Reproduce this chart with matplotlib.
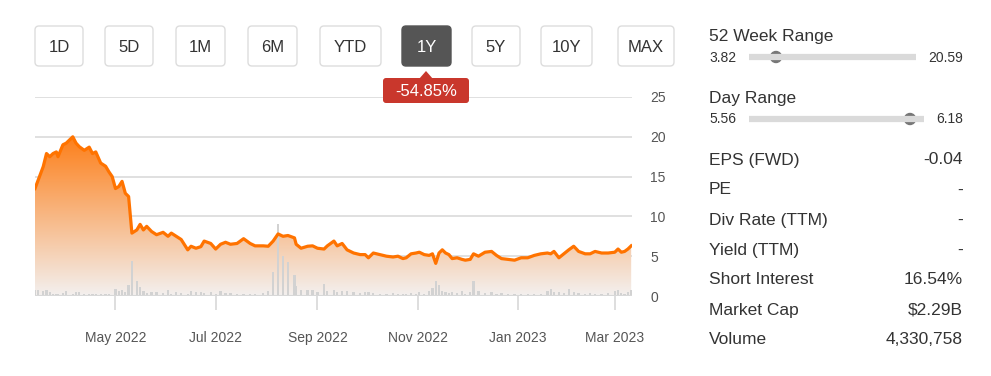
import numpy as np
import pandas as pd
import matplotlib
matplotlib.use("Agg")
import matplotlib.pyplot as plt
from matplotlib.patches import FancyBboxPatch, Polygon, Circle

plt.rcParams["font.family"] = ["Liberation Sans", "DejaVu Sans"]

# price history, days counted from 2022-03-13
start = pd.Timestamp("2022-03-13")
days = [0, 2, 5, 7, 9, 11, 13, 14, 17, 19, 23, 25, 27, 30, 33, 35, 37, 40, 43, 45,
        47, 49, 51, 53, 55, 57, 59, 62, 64, 66, 68, 71, 74, 78, 81, 83, 86, 89, 93, 95,
        98, 101, 103, 107, 110, 113, 116, 119, 123, 127, 131, 134, 139, 142, 145, 148, 151, 154, 158, 159,
        162, 166, 169, 172, 176, 178, 182, 184, 187, 190, 194, 198, 201, 203, 206, 210, 214, 218, 221, 224,
        226, 229, 232, 234, 237, 240, 242, 244, 246, 248, 250, 252, 254, 257, 260, 262, 265, 267, 270, 274,
        278, 281, 284, 288, 292, 296, 300, 304, 308, 312, 314, 316, 319, 322, 325, 328, 331, 335, 338, 341,
        345, 349, 353, 355, 357, 359, 361, 363]
price = [13.5, 14.6, 16.25, 17.9, 17.5, 17.9, 18.1, 17.5, 19.0, 19.2, 20.0, 19.2, 18.75, 18.3, 18.7, 17.9, 18.1, 16.7, 16.3, 15.6,
         15.0, 13.5, 13.75, 14.4, 12.9, 12.5, 7.9, 8.3, 9.0, 8.3, 8.75, 8.1, 7.7, 8.0, 7.5, 7.9, 7.5, 7.1, 5.8, 6.25,
         6.0, 6.2, 6.9, 6.6, 5.9, 6.5, 6.75, 6.5, 6.6, 7.2, 6.6, 6.3, 6.3, 6.25, 6.9, 7.8, 7.5, 7.6, 7.3, 6.5,
         6.0, 6.25, 6.3, 6.0, 5.9, 6.3, 6.9, 6.3, 6.6, 5.8, 5.4, 5.2, 5.2, 4.8, 5.4, 5.2, 5.0, 4.9, 5.0, 4.7,
         4.8, 5.3, 5.4, 5.5, 5.2, 5.1, 5.3, 4.1, 5.4, 5.8, 5.4, 5.2, 4.7, 4.8, 4.6, 4.5, 4.6, 5.3, 5.0, 5.5,
         5.6, 5.1, 4.7, 4.6, 4.5, 4.8, 4.8, 5.1, 5.3, 5.4, 5.3, 5.6, 4.8, 5.3, 5.8, 6.25, 5.6, 5.3, 5.3, 5.6,
         5.4, 5.4, 5.5, 5.9, 5.5, 5.6, 5.9, 6.3]
# volume bars, drawn in price-axis units as on the site
volume = [0.7, 0.8, 0.6, 0.8, 0.5, 0.3, 0.2, 0.3, 0.4, 0.6, 0.3, 0.5, 0.5, 0.2, 0.2, 0.2, 0.2, 0.2, 0.3, 0.2,
          0.1, 0.9, 0.6, 0.7, 0.5, 1.4, 4.4, 1.9, 1.1, 0.6, 0.4, 0.5, 0.5, 0.4, 0.8, 0.3, 0.5, 0.4, 0.3, 0.6,
          0.5, 0.5, 0.4, 0.5, 0.3, 0.6, 0.4, 0.4, 0.2, 0.3, 0.2, 0.2, 0.4, 0.6, 3.0, 9.0, 5.0, 4.3, 2.7, 1.2,
          0.8, 0.7, 0.7, 0.5, 1.5, 0.6, 0.7, 0.5, 0.6, 0.6, 0.5, 0.4, 0.5, 0.5, 0.4, 0.3, 0.3, 0.4, 0.3, 0.2,
          0.3, 0.4, 0.3, 0.5, 0.3, 0.6, 1.0, 1.9, 1.4, 0.6, 0.5, 0.4, 0.5, 0.4, 0.6, 0.3, 0.5, 1.9, 0.6, 0.4,
          0.5, 0.3, 0.4, 0.2, 0.3, 0.3, 0.2, 0.3, 0.3, 0.6, 0.9, 0.5, 0.5, 0.4, 0.9, 0.5, 0.4, 0.3, 0.4, 0.3,
          0.3, 0.4, 0.6, 0.8, 0.4, 0.3, 0.5, 0.7]

tick_dates = ["2022-05-01", "2022-07-01", "2022-09-01", "2022-11-01", "2023-01-01", "2023-03-01"]
tick_labels = ["May 2022", "Jul 2022", "Sep 2022", "Nov 2022", "Jan 2023", "Mar 2023"]
ranges = ["1D", "5D", "1M", "6M", "YTD", "1Y", "5Y", "10Y", "MAX"]
change = "-54.85%"

week_lo, week_hi = 3.82, 20.59
day_lo, day_hi = 5.56, 6.18
stat_names = ["EPS (FWD)", "PE", "Div Rate (TTM)", "Yield (TTM)", "Short Interest", "Market Cap", "Volume"]
stat_values = ["-0.04", "-", "-", "-", "16.54%", "$2.29B", "4,330,758"]

W, H = 991, 376
fig = plt.figure(figsize=(W / 100, H / 100), dpi=100)

x = np.array(days, dtype=float)
y = np.array(price)
xmax = 363.5

ax = fig.add_axes([35 / W, 1 - 296 / H, 597 / W, 199 / H])
ax.set_xlim(0, xmax)
ax.set_ylim(0, 25)

# gradient fill under the price line
top = np.array([253, 124, 20, 255]) / 255
bot = np.array([243, 240, 239, 255]) / 255
t = np.linspace(0, 1, 256)[:, None]
grad = (top * (1 - t) + bot * t)[:, None, :]
ymax_fill = max(price) + 0.5
img = ax.imshow(grad, extent=[0, xmax, 0, ymax_fill], aspect="auto", zorder=1, origin="upper")
poly = Polygon(np.column_stack([np.r_[x[0], x, x[-1]], np.r_[0, y, 0]]), closed=True,
               facecolor="none", edgecolor="none")
ax.add_patch(poly)
img.set_clip_path(poly)

ax.bar(x, volume, width=1.4, color="#d2d2d2", zorder=2)
ax.plot(x, y, color="#ff7300", lw=2.3, zorder=3, solid_joinstyle="round")

for v in [5, 10, 15, 20, 25]:
    ax.axhline(v, color="#dddddd", lw=1.3, zorder=0)
ax.axhline(0, color="#d8d8d8", lw=1.5, zorder=4)

for s in ax.spines.values():
    s.set_visible(False)
ax.yaxis.tick_right()
ax.set_yticks([0, 5, 10, 15, 20, 25])
ax.tick_params(axis="y", length=0, pad=13, labelsize=10, labelcolor="#555555")
tick_pos = [(pd.Timestamp(d) - start).days for d in tick_dates]
ax.set_xticks(tick_pos)
ax.set_xticklabels(tick_labels)
ax.tick_params(axis="x", length=10, width=1.2, color="#d8d8d8", pad=15,
               labelsize=10, labelcolor="#555555")
ax.set_facecolor("none")

# overlay in pixel units for the buttons and the stats panel
ov = fig.add_axes([0, 0, 1, 1], zorder=5)
ov.set_xlim(0, W)
ov.set_ylim(H, 0)
ov.axis("off")
ov.patch.set_alpha(0)

btn_x = [35, 105, 176, 248, 320, 402, 472, 541, 618]
btn_w = [48, 48, 49, 49, 61, 49, 48, 51, 56]
for bx, bw, name in zip(btn_x, btn_w, ranges):
    sel = name == "1Y"
    ov.add_patch(FancyBboxPatch((bx, 26), bw, 40, boxstyle="round,pad=0,rounding_size=4",
                                facecolor="#555555" if sel else "white",
                                edgecolor="#555555" if sel else "#dddddd", lw=1))
    ov.text(bx + bw / 2, 47, name, ha="center", va="center", fontsize=12,
            color="white" if sel else "#333333")

ov.add_patch(Polygon([[419, 79], [426, 71], [433, 79]], closed=True, facecolor="#c9372c", edgecolor="none"))
ov.add_patch(FancyBboxPatch((383, 78), 86, 25, boxstyle="round,pad=0,rounding_size=3",
                            facecolor="#c9372c", edgecolor="none"))
ov.text(426, 91, change, ha="center", va="center", fontsize=12, color="white")

dark = "#333333"
ov.text(709, 37, "52 Week Range", ha="left", va="center", fontsize=12.5, color=dark)
ov.text(709, 58, f"{week_lo:.2f}", ha="left", va="center", fontsize=10, color=dark)
ov.text(963, 58, f"{week_hi:.2f}", ha="right", va="center", fontsize=10, color=dark)
ov.plot([749, 916], [57, 57], color="#dadada", lw=4.5, solid_capstyle="butt")
ov.add_patch(Circle((776, 57), 5.5, color="#777777"))

ov.text(709, 98, "Day Range", ha="left", va="center", fontsize=12.5, color=dark)
ov.text(709, 119, f"{day_lo:.2f}", ha="left", va="center", fontsize=10, color=dark)
ov.text(963, 119, f"{day_hi:.2f}", ha="right", va="center", fontsize=10, color=dark)
ov.plot([749, 924], [119, 119], color="#dadada", lw=4.5, solid_capstyle="butt")
ov.add_patch(Circle((910, 119), 5.5, color="#777777"))

for i, (n, v) in enumerate(zip(stat_names, stat_values)):
    yy = 160 + i * 30
    ov.text(709, yy, n, ha="left", va="center", fontsize=12.5, color=dark)
    ov.text(963, yy, v, ha="right", va="center", fontsize=12.5, color=dark)

fig.savefig("out.png", dpi=100, facecolor="white")
